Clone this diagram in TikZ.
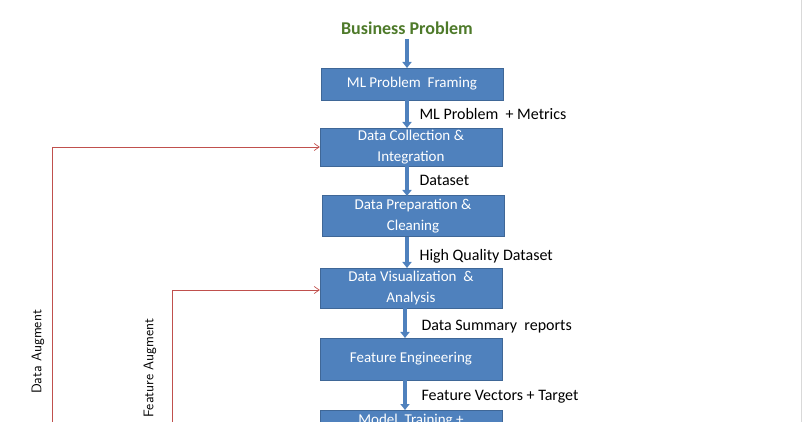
\documentclass[tikz,border=0pt]{standalone}
\usepackage{fontspec}
\setmainfont{Carlito}
\usetikzlibrary{arrows.meta, positioning}
\definecolor{boxblue}{HTML}{4F81BD}
\definecolor{titlegreen}{HTML}{4E7A2A}
\definecolor{augred}{HTML}{C0504D}

\begin{document}
\begin{tikzpicture}[
    x=1pt, y=-1pt,
    stepbox/.style={rectangle, fill=boxblue, draw=boxblue!80!black, text=white,
                    minimum width=182pt, align=center, inner sep=1pt,
                    font=\fontsize{15}{21}\selectfont},
    flow/.style={draw=boxblue, line width=3.5pt, -{Triangle[length=6pt,width=9pt]}},
    flowlabel/.style={anchor=west, font=\fontsize{16}{18}\selectfont},
    aug/.style={draw=augred, line width=0.7pt, -{Straight Barb[length=5pt,width=7pt]}},
    auglabel/.style={rotate=90, font=\sffamily\fontsize{14}{16}\selectfont},
]
\useasboundingbox (0,0) rectangle (804,422);
\clip (0,0) rectangle (804,422);

% Title
\node[font=\bfseries\fontsize{18}{20}\selectfont, text=titlegreen] (title) at (407,28) {Business Problem};

% Steps
\node[stepbox, minimum height=32pt] (framing) at (412,84) {ML Problem\ \ Framing};
\node[stepbox, minimum height=38pt] (collect) at (411,147) {Data Collection \&\\Integration};
\node[stepbox, minimum height=41pt] (prep) at (413,216) {Data Preparation \&\\Cleaning};
\node[stepbox, minimum height=40pt] (visual) at (411,288) {Data Visualization\ \ \&\\Analysis};
\node[stepbox, minimum height=42pt] (feature) at (411,359) {Feature Engineering};
\node[stepbox, minimum height=40pt, anchor=north] (train) at (411,410) {Model\ \ Training +\\ \ };

% Flow
\draw[flow] (407,39) -- (407,68);
\draw[flow] (407,100) -- (407,128);
\draw[flow] (407,166) -- (407,196);
\draw[flow] (407,237) -- (407,268);
\draw[flow] (405,308) -- (405,338);
\draw[flow] (405,380) -- (405,410);

% Flow labels
\node[flowlabel] (l1) at (416,114) {ML Problem\ \ + Metrics};
\node[flowlabel] (l2) at (416,180) {Dataset};
\node[flowlabel] (l3) at (416,256) {High Quality Dataset};
\node[flowlabel] (l4) at (418,327) {Data Summary\ \ reports};
\node[flowlabel] (l5) at (418,397) {Feature Vectors + Target};

% Augment loops
\coordinate (dbot) at (52,430);
\coordinate (fbot) at (172,430);
\draw[aug] (dbot) -- (52,147) -- (collect.west);
\draw[aug] (fbot) -- (172,290) -- (visual.west |- 0,290);
\node[auglabel] (dlabel) at (38,352) {Data Augment};
\node[auglabel] (flabel) at (150,368) {Feature Augment};

% Right edge line
\draw[black!15, line width=1pt] (801,0) -- (801,422);
\end{tikzpicture}
\end{document}
